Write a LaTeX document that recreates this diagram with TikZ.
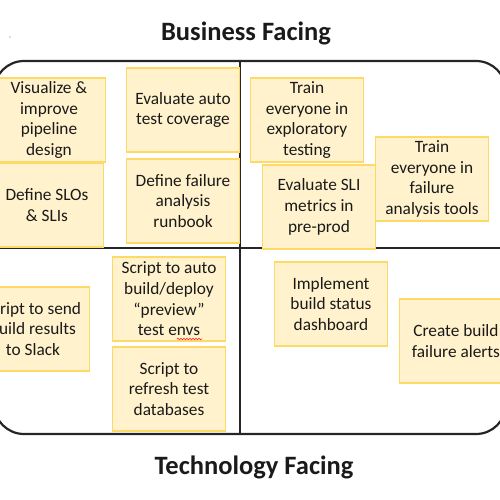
\documentclass[tikz,border=0pt]{standalone}
\usepackage{fontspec}
\setmainfont{Carlito}
\usepackage{xcolor}
\usetikzlibrary{positioning, decorations.pathmorphing}

\definecolor{notefill}{HTML}{FFF2CC}
\definecolor{noteline}{HTML}{FFD966}
\definecolor{notetext}{HTML}{1A1A1A}

\begin{document}
\begin{tikzpicture}[
    x=1pt, y=-1pt,
    font=\fontsize{17.3}{20.7}\selectfont,
    note/.style={
        draw=noteline,
        fill=notefill,
        line width=1.2pt,
        minimum width=113pt,
        minimum height=84pt,
        align=center,
        text=notetext,
        inner sep=2pt
    },
    heading/.style={
        font=\fontsize{26.5}{30}\selectfont\bfseries,
        text=notetext
    },
    frame/.style={
        line width=2.2pt,
        draw=black!85
    }
]

\useasboundingbox (0,0) rectangle (500,500);
\clip (0,0) rectangle (500,500);

% quadrant frame
\draw[frame, rounded corners=30pt] (-6,61) rectangle (506,434);
\draw[frame] (240,61) -- (240,434);
\draw[frame] (-6,248) -- (506,248);

\fill[black!60] (10,37) circle (0.7pt);

\node[heading] (business) at (246,33) {Business Facing};
\node[heading] (technology) at (254,467) {Technology Facing};

% top left
\node[note] (vis) at (49,120) {Visualize \&\\improve\\pipeline\\design};
\node[note] (slo) at (47,205) {Define SLOs\\\& SLIs};
\node[note] (cover) at (183,110) {Evaluate auto\\test coverage};
\node[note] (runbook) at (183,201) {Define failure\\analysis\\runbook};

% top right
\node[note] (explore) at (307,120) {Train\\everyone in\\exploratory\\testing};
\node[note] (slimetric) at (319,207) {Evaluate SLI\\metrics in\\pre-prod};
\node[note] (failtools) at (432,179) {Train\\everyone in\\failure\\analysis tools};

% bottom left
\node[note] (slack) at (33,329) {Script to send\\build results\\to Slack};
\node[note] (preview) at (169,299) {Script to auto\\build/deploy\\“preview”\\test envs};
\node[note] (refresh) at (169,389) {Script to\\refresh test\\databases};

% bottom right
\node[note] (dashboard) at (331,304) {Implement\\build status\\dashboard};
\node[note] (alerts) at (456,341) {Create build\\failure alerts};

% spell check mark
\draw[red!85, line width=0.6pt, decorate,
      decoration={snake, amplitude=0.8pt, segment length=3pt}]
    (177,339) -- (202,339);

\end{tikzpicture}
\end{document}
